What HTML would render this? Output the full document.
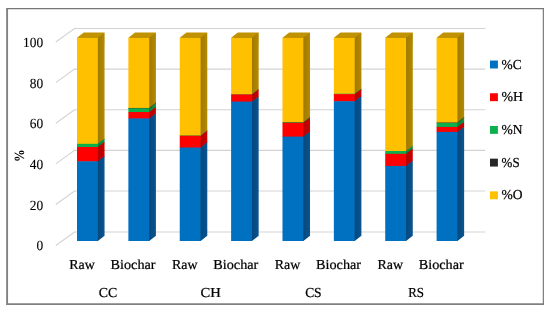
<!DOCTYPE html>
<html><head><meta charset="utf-8"><title>chart</title>
<style>html,body{margin:0;padding:0;background:#fff}</style></head>
<body>
<svg width="550" height="313" viewBox="0 0 550 313" style="display:block" text-rendering="geometricPrecision">
<rect x="0" y="0" width="550" height="313" fill="#fff"/>
<defs>
<linearGradient id="sgb" x1="0" y1="0" x2="1" y2="0"><stop offset="0" stop-color="#04467A"/><stop offset="1" stop-color="#0A5490"/></linearGradient>
<linearGradient id="sgr" x1="0" y1="0" x2="1" y2="0"><stop offset="0" stop-color="#B00000"/><stop offset="1" stop-color="#CA0000"/></linearGradient>
<linearGradient id="sgg" x1="0" y1="0" x2="1" y2="0"><stop offset="0" stop-color="#067A36"/><stop offset="1" stop-color="#0C9444"/></linearGradient>
<linearGradient id="sgs" x1="0" y1="0" x2="1" y2="0"><stop offset="0" stop-color="#111"/><stop offset="1" stop-color="#222"/></linearGradient>
<linearGradient id="sgo" x1="0" y1="0" x2="1" y2="0"><stop offset="0" stop-color="#9C7600"/><stop offset="1" stop-color="#B48A00"/></linearGradient>
</defs>
<path d="M6.15 8.55 H543.9" stroke="#767676" stroke-width="1.15" fill="none"/>
<path d="M6.15 304.05 H543.9" stroke="#808080" stroke-width="1.7" fill="none"/>
<path d="M7.1 8 V304.9" stroke="#828282" stroke-width="1.9" fill="none"/>
<path d="M543.35 8 V304.9" stroke="#767676" stroke-width="1.15" fill="none"/>
<path d="M55.8 42.00 L74.5 28.50 L485.3 28.50" fill="none" stroke="#D3D3D3" stroke-width="1.1"/>
<path d="M55.8 82.62 L74.5 69.12 L485.3 69.12" fill="none" stroke="#D3D3D3" stroke-width="1.1"/>
<path d="M55.8 123.24 L74.5 109.74 L485.3 109.74" fill="none" stroke="#D3D3D3" stroke-width="1.1"/>
<path d="M55.8 163.86 L74.5 150.36 L485.3 150.36" fill="none" stroke="#D3D3D3" stroke-width="1.1"/>
<path d="M55.8 204.48 L74.5 190.98 L485.3 190.98" fill="none" stroke="#D3D3D3" stroke-width="1.1"/>
<path d="M55.8 245.50 L74.5 232.00 L485.3 232.00" fill="none" stroke="#D3D3D3" stroke-width="1.1"/>
<path d="M78.00 37.70 L84.30 33.00 L104.15 33.00 L104.15 44.50 L97.85 49.70 L96.85 38.70 Z" fill="#B48A00"/>
<path d="M96.85 37.70 L97.85 37.70 L104.55 32.50 L104.55 139.20 L97.85 144.40 L96.85 144.40 Z" fill="url(#sgo)"/>
<path d="M96.85 143.80 L97.85 143.80 L104.55 138.60 L104.55 142.40 L97.85 147.60 L96.85 147.60 Z" fill="url(#sgg)"/>
<path d="M96.85 147.00 L97.85 147.00 L104.55 141.80 L104.55 156.70 L97.85 161.90 L96.85 161.90 Z" fill="url(#sgr)"/>
<path d="M96.85 161.30 L97.85 161.30 L104.55 156.10 L104.55 235.80 L97.85 241.00 L96.85 241.00 Z" fill="url(#sgb)"/>
<rect x="77.00" y="37.70" width="20.85" height="106.60" fill="#FFC000"/>
<rect x="77.00" y="143.80" width="20.85" height="3.70" fill="#0BB04C"/>
<rect x="77.00" y="147.00" width="20.85" height="14.80" fill="#FF0000"/>
<rect x="77.00" y="161.30" width="20.85" height="79.70" fill="#0070C0"/>
<path d="M77.00 37.70 L83.70 32.50 L104.55 32.50 L97.85 37.70 Z" fill="#C09100"/>
<path d="M129.37 37.70 L135.67 33.00 L155.52 33.00 L155.52 44.50 L149.22 49.70 L148.22 38.70 Z" fill="#B48A00"/>
<path d="M148.22 37.70 L149.22 37.70 L155.92 32.50 L155.92 103.35 L149.22 108.55 L148.22 108.55 Z" fill="url(#sgo)"/>
<path d="M148.22 107.95 L149.22 107.95 L155.92 102.75 L155.92 103.75 L149.22 108.95 L148.22 108.95 Z" fill="url(#sgs)"/>
<path d="M148.22 108.35 L149.22 108.35 L155.92 103.15 L155.92 107.40 L149.22 112.60 L148.22 112.60 Z" fill="url(#sgg)"/>
<path d="M148.22 112.00 L149.22 112.00 L155.92 106.80 L155.92 113.80 L149.22 119.00 L148.22 119.00 Z" fill="url(#sgr)"/>
<path d="M148.22 118.40 L149.22 118.40 L155.92 113.20 L155.92 235.80 L149.22 241.00 L148.22 241.00 Z" fill="url(#sgb)"/>
<rect x="128.37" y="37.70" width="20.85" height="70.75" fill="#FFC000"/>
<rect x="128.37" y="107.95" width="20.85" height="0.90" fill="#262626"/>
<rect x="128.37" y="108.35" width="20.85" height="4.15" fill="#0BB04C"/>
<rect x="128.37" y="112.00" width="20.85" height="6.90" fill="#FF0000"/>
<rect x="128.37" y="118.40" width="20.85" height="122.60" fill="#0070C0"/>
<path d="M128.37 37.70 L135.07 32.50 L155.92 32.50 L149.22 37.70 Z" fill="#C09100"/>
<path d="M180.74 37.70 L187.04 33.00 L206.89 33.00 L206.89 44.50 L200.59 49.70 L199.59 38.70 Z" fill="#B48A00"/>
<path d="M199.59 37.70 L200.59 37.70 L207.29 32.50 L207.29 130.90 L200.59 136.10 L199.59 136.10 Z" fill="url(#sgo)"/>
<path d="M199.59 135.50 L200.59 135.50 L207.29 130.30 L207.29 131.10 L200.59 136.30 L199.59 136.30 Z" fill="url(#sgg)"/>
<path d="M199.59 135.70 L200.59 135.70 L207.29 130.50 L207.29 142.90 L200.59 148.10 L199.59 148.10 Z" fill="url(#sgr)"/>
<path d="M199.59 147.50 L200.59 147.50 L207.29 142.30 L207.29 235.80 L200.59 241.00 L199.59 241.00 Z" fill="url(#sgb)"/>
<rect x="179.74" y="37.70" width="20.85" height="98.30" fill="#FFC000"/>
<rect x="179.74" y="135.50" width="20.85" height="0.70" fill="#0BB04C"/>
<rect x="179.74" y="135.70" width="20.85" height="12.30" fill="#FF0000"/>
<rect x="179.74" y="147.50" width="20.85" height="93.50" fill="#0070C0"/>
<path d="M179.74 37.70 L186.44 32.50 L207.29 32.50 L200.59 37.70 Z" fill="#C09100"/>
<path d="M232.11 37.70 L238.41 33.00 L258.26 33.00 L258.26 44.50 L251.96 49.70 L250.96 38.70 Z" fill="#B48A00"/>
<path d="M250.96 37.70 L251.96 37.70 L258.66 32.50 L258.66 89.70 L251.96 94.90 L250.96 94.90 Z" fill="url(#sgo)"/>
<path d="M250.96 94.30 L251.96 94.30 L258.66 89.10 L258.66 89.80 L251.96 95.00 L250.96 95.00 Z" fill="url(#sgg)"/>
<path d="M250.96 94.40 L251.96 94.40 L258.66 89.20 L258.66 97.00 L251.96 102.20 L250.96 102.20 Z" fill="url(#sgr)"/>
<path d="M250.96 101.60 L251.96 101.60 L258.66 96.40 L258.66 235.80 L251.96 241.00 L250.96 241.00 Z" fill="url(#sgb)"/>
<rect x="231.11" y="37.70" width="20.85" height="57.10" fill="#FFC000"/>
<rect x="231.11" y="94.30" width="20.85" height="0.60" fill="#0BB04C"/>
<rect x="231.11" y="94.40" width="20.85" height="7.70" fill="#FF0000"/>
<rect x="231.11" y="101.60" width="20.85" height="139.40" fill="#0070C0"/>
<path d="M231.11 37.70 L237.81 32.50 L258.66 32.50 L251.96 37.70 Z" fill="#C09100"/>
<path d="M283.48 37.70 L289.78 33.00 L309.63 33.00 L309.63 44.50 L303.33 49.70 L302.33 38.70 Z" fill="#B48A00"/>
<path d="M302.33 37.70 L303.33 37.70 L310.03 32.50 L310.03 117.40 L303.33 122.60 L302.33 122.60 Z" fill="url(#sgo)"/>
<path d="M302.33 122.00 L303.33 122.00 L310.03 116.80 L310.03 118.00 L303.33 123.20 L302.33 123.20 Z" fill="url(#sgg)"/>
<path d="M302.33 122.60 L303.33 122.60 L310.03 117.40 L310.03 132.00 L303.33 137.20 L302.33 137.20 Z" fill="url(#sgr)"/>
<path d="M302.33 136.60 L303.33 136.60 L310.03 131.40 L310.03 235.80 L303.33 241.00 L302.33 241.00 Z" fill="url(#sgb)"/>
<rect x="282.48" y="37.70" width="20.85" height="84.80" fill="#FFC000"/>
<rect x="282.48" y="122.00" width="20.85" height="1.10" fill="#0BB04C"/>
<rect x="282.48" y="122.60" width="20.85" height="14.50" fill="#FF0000"/>
<rect x="282.48" y="136.60" width="20.85" height="104.40" fill="#0070C0"/>
<path d="M282.48 37.70 L289.18 32.50 L310.03 32.50 L303.33 37.70 Z" fill="#C09100"/>
<path d="M334.85 37.70 L341.15 33.00 L361.00 33.00 L361.00 44.50 L354.70 49.70 L353.70 38.70 Z" fill="#B48A00"/>
<path d="M353.70 37.70 L354.70 37.70 L361.40 32.50 L361.40 89.10 L354.70 94.30 L353.70 94.30 Z" fill="url(#sgo)"/>
<path d="M353.70 93.70 L354.70 93.70 L361.40 88.50 L361.40 89.50 L354.70 94.70 L353.70 94.70 Z" fill="url(#sgg)"/>
<path d="M353.70 94.10 L354.70 94.10 L361.40 88.90 L361.40 96.60 L354.70 101.80 L353.70 101.80 Z" fill="url(#sgr)"/>
<path d="M353.70 101.20 L354.70 101.20 L361.40 96.00 L361.40 235.80 L354.70 241.00 L353.70 241.00 Z" fill="url(#sgb)"/>
<rect x="333.85" y="37.70" width="20.85" height="56.50" fill="#FFC000"/>
<rect x="333.85" y="93.70" width="20.85" height="0.90" fill="#0BB04C"/>
<rect x="333.85" y="94.10" width="20.85" height="7.60" fill="#FF0000"/>
<rect x="333.85" y="101.20" width="20.85" height="139.80" fill="#0070C0"/>
<path d="M333.85 37.70 L340.55 32.50 L361.40 32.50 L354.70 37.70 Z" fill="#C09100"/>
<path d="M386.22 37.70 L392.52 33.00 L412.37 33.00 L412.37 44.50 L406.07 49.70 L405.07 38.70 Z" fill="#B48A00"/>
<path d="M405.07 37.70 L406.07 37.70 L412.77 32.50 L412.77 146.40 L406.07 151.60 L405.07 151.60 Z" fill="url(#sgo)"/>
<path d="M405.07 151.00 L406.07 151.00 L412.77 145.80 L412.77 149.20 L406.07 154.40 L405.07 154.40 Z" fill="url(#sgg)"/>
<path d="M405.07 153.80 L406.07 153.80 L412.77 148.60 L412.77 161.30 L406.07 166.50 L405.07 166.50 Z" fill="url(#sgr)"/>
<path d="M405.07 165.90 L406.07 165.90 L412.77 160.70 L412.77 235.80 L406.07 241.00 L405.07 241.00 Z" fill="url(#sgb)"/>
<rect x="385.22" y="37.70" width="20.85" height="113.80" fill="#FFC000"/>
<rect x="385.22" y="151.00" width="20.85" height="3.30" fill="#0BB04C"/>
<rect x="385.22" y="153.80" width="20.85" height="12.60" fill="#FF0000"/>
<rect x="385.22" y="165.90" width="20.85" height="75.10" fill="#0070C0"/>
<path d="M385.22 37.70 L391.92 32.50 L412.77 32.50 L406.07 37.70 Z" fill="#C09100"/>
<path d="M437.59 37.70 L443.89 33.00 L463.74 33.00 L463.74 44.50 L457.44 49.70 L456.44 38.70 Z" fill="#B48A00"/>
<path d="M456.44 37.70 L457.44 37.70 L464.14 32.50 L464.14 117.95 L457.44 123.15 L456.44 123.15 Z" fill="url(#sgo)"/>
<path d="M456.44 122.55 L457.44 122.55 L464.14 117.35 L464.14 118.35 L457.44 123.55 L456.44 123.55 Z" fill="url(#sgs)"/>
<path d="M456.44 122.95 L457.44 122.95 L464.14 117.75 L464.14 122.30 L457.44 127.50 L456.44 127.50 Z" fill="url(#sgg)"/>
<path d="M456.44 126.90 L457.44 126.90 L464.14 121.70 L464.14 127.30 L457.44 132.50 L456.44 132.50 Z" fill="url(#sgr)"/>
<path d="M456.44 131.90 L457.44 131.90 L464.14 126.70 L464.14 235.80 L457.44 241.00 L456.44 241.00 Z" fill="url(#sgb)"/>
<rect x="436.59" y="37.70" width="20.85" height="85.35" fill="#FFC000"/>
<rect x="436.59" y="122.55" width="20.85" height="0.90" fill="#262626"/>
<rect x="436.59" y="122.95" width="20.85" height="4.45" fill="#0BB04C"/>
<rect x="436.59" y="126.90" width="20.85" height="5.50" fill="#FF0000"/>
<rect x="436.59" y="131.90" width="20.85" height="109.10" fill="#0070C0"/>
<path d="M436.59 37.70 L443.29 32.50 L464.14 32.50 L457.44 37.70 Z" fill="#C09100"/>
<text x="43.15" y="46.80" text-anchor="end" font-size="14.0" font-family="'Liberation Serif', serif" fill="#000" stroke="#000" stroke-width="0.1" textLength="20.1" lengthAdjust="spacingAndGlyphs">100</text>
<text x="43.15" y="87.52" text-anchor="end" font-size="14.0" font-family="'Liberation Serif', serif" fill="#000" stroke="#000" stroke-width="0.1" textLength="13.4" lengthAdjust="spacingAndGlyphs">80</text>
<text x="43.15" y="128.24" text-anchor="end" font-size="14.0" font-family="'Liberation Serif', serif" fill="#000" stroke="#000" stroke-width="0.1" textLength="13.4" lengthAdjust="spacingAndGlyphs">60</text>
<text x="43.15" y="168.96" text-anchor="end" font-size="14.0" font-family="'Liberation Serif', serif" fill="#000" stroke="#000" stroke-width="0.1" textLength="13.4" lengthAdjust="spacingAndGlyphs">40</text>
<text x="43.15" y="209.68" text-anchor="end" font-size="14.0" font-family="'Liberation Serif', serif" fill="#000" stroke="#000" stroke-width="0.1" textLength="13.4" lengthAdjust="spacingAndGlyphs">20</text>
<text x="43.15" y="250.40" text-anchor="end" font-size="14.0" font-family="'Liberation Serif', serif" fill="#000" stroke="#000" stroke-width="0.1" textLength="6.7" lengthAdjust="spacingAndGlyphs">0</text>
<text transform="translate(24.4 155.8) rotate(-90)" text-anchor="middle" font-size="14.2" font-weight="bold" font-family="'Liberation Serif', serif" fill="#000" textLength="12.6" lengthAdjust="spacingAndGlyphs">%</text>
<text x="82.00" y="268.60" text-anchor="middle" font-size="13.7" font-family="'Liberation Serif', serif" fill="#000" stroke="#000" stroke-width="0.22" textLength="25.5" lengthAdjust="spacingAndGlyphs">Raw</text>
<text x="133.07" y="268.60" text-anchor="middle" font-size="13.7" font-family="'Liberation Serif', serif" fill="#000" stroke="#000" stroke-width="0.22" textLength="45.0" lengthAdjust="spacingAndGlyphs">Biochar</text>
<text x="184.74" y="268.60" text-anchor="middle" font-size="13.7" font-family="'Liberation Serif', serif" fill="#000" stroke="#000" stroke-width="0.22" textLength="25.5" lengthAdjust="spacingAndGlyphs">Raw</text>
<text x="235.81" y="268.60" text-anchor="middle" font-size="13.7" font-family="'Liberation Serif', serif" fill="#000" stroke="#000" stroke-width="0.22" textLength="45.0" lengthAdjust="spacingAndGlyphs">Biochar</text>
<text x="287.48" y="268.60" text-anchor="middle" font-size="13.7" font-family="'Liberation Serif', serif" fill="#000" stroke="#000" stroke-width="0.22" textLength="25.5" lengthAdjust="spacingAndGlyphs">Raw</text>
<text x="338.55" y="268.60" text-anchor="middle" font-size="13.7" font-family="'Liberation Serif', serif" fill="#000" stroke="#000" stroke-width="0.22" textLength="45.0" lengthAdjust="spacingAndGlyphs">Biochar</text>
<text x="390.22" y="268.60" text-anchor="middle" font-size="13.7" font-family="'Liberation Serif', serif" fill="#000" stroke="#000" stroke-width="0.22" textLength="25.5" lengthAdjust="spacingAndGlyphs">Raw</text>
<text x="441.29" y="268.60" text-anchor="middle" font-size="13.7" font-family="'Liberation Serif', serif" fill="#000" stroke="#000" stroke-width="0.22" textLength="45.0" lengthAdjust="spacingAndGlyphs">Biochar</text>
<text x="107.90" y="297.00" text-anchor="middle" font-size="13.7" font-family="'Liberation Serif', serif" fill="#000" stroke="#000" stroke-width="0.22" textLength="18.5" lengthAdjust="spacingAndGlyphs">CC</text>
<text x="210.64" y="297.00" text-anchor="middle" font-size="13.7" font-family="'Liberation Serif', serif" fill="#000" stroke="#000" stroke-width="0.22" textLength="20.3" lengthAdjust="spacingAndGlyphs">CH</text>
<text x="313.38" y="297.00" text-anchor="middle" font-size="13.7" font-family="'Liberation Serif', serif" fill="#000" stroke="#000" stroke-width="0.22" textLength="16.5" lengthAdjust="spacingAndGlyphs">CS</text>
<text x="416.12" y="297.00" text-anchor="middle" font-size="13.7" font-family="'Liberation Serif', serif" fill="#000" stroke="#000" stroke-width="0.22" textLength="15.8" lengthAdjust="spacingAndGlyphs">RS</text>
<rect x="490" y="60.55" width="7.9" height="7.9" fill="#0070C0"/>
<text x="501.60" y="68.55" text-anchor="start" font-size="13.7" font-family="'Liberation Serif', serif" fill="#000" stroke="#000" stroke-width="0.22" textLength="20" lengthAdjust="spacingAndGlyphs">%C</text>
<rect x="490" y="93.25" width="7.9" height="7.9" fill="#FF0000"/>
<text x="501.60" y="101.25" text-anchor="start" font-size="13.7" font-family="'Liberation Serif', serif" fill="#000" stroke="#000" stroke-width="0.22" textLength="21.5" lengthAdjust="spacingAndGlyphs">%H</text>
<rect x="490" y="125.95" width="7.9" height="7.9" fill="#0BB04C"/>
<text x="501.60" y="133.95" text-anchor="start" font-size="13.7" font-family="'Liberation Serif', serif" fill="#000" stroke="#000" stroke-width="0.22" textLength="21" lengthAdjust="spacingAndGlyphs">%N</text>
<rect x="490" y="158.65" width="7.9" height="7.9" fill="#262626"/>
<text x="501.60" y="166.65" text-anchor="start" font-size="13.7" font-family="'Liberation Serif', serif" fill="#000" stroke="#000" stroke-width="0.22" textLength="18" lengthAdjust="spacingAndGlyphs">%S</text>
<rect x="490" y="191.35" width="7.9" height="7.9" fill="#FFC000"/>
<text x="501.60" y="199.35" text-anchor="start" font-size="13.7" font-family="'Liberation Serif', serif" fill="#000" stroke="#000" stroke-width="0.22" textLength="21" lengthAdjust="spacingAndGlyphs">%O</text>
</svg>
</body></html>
